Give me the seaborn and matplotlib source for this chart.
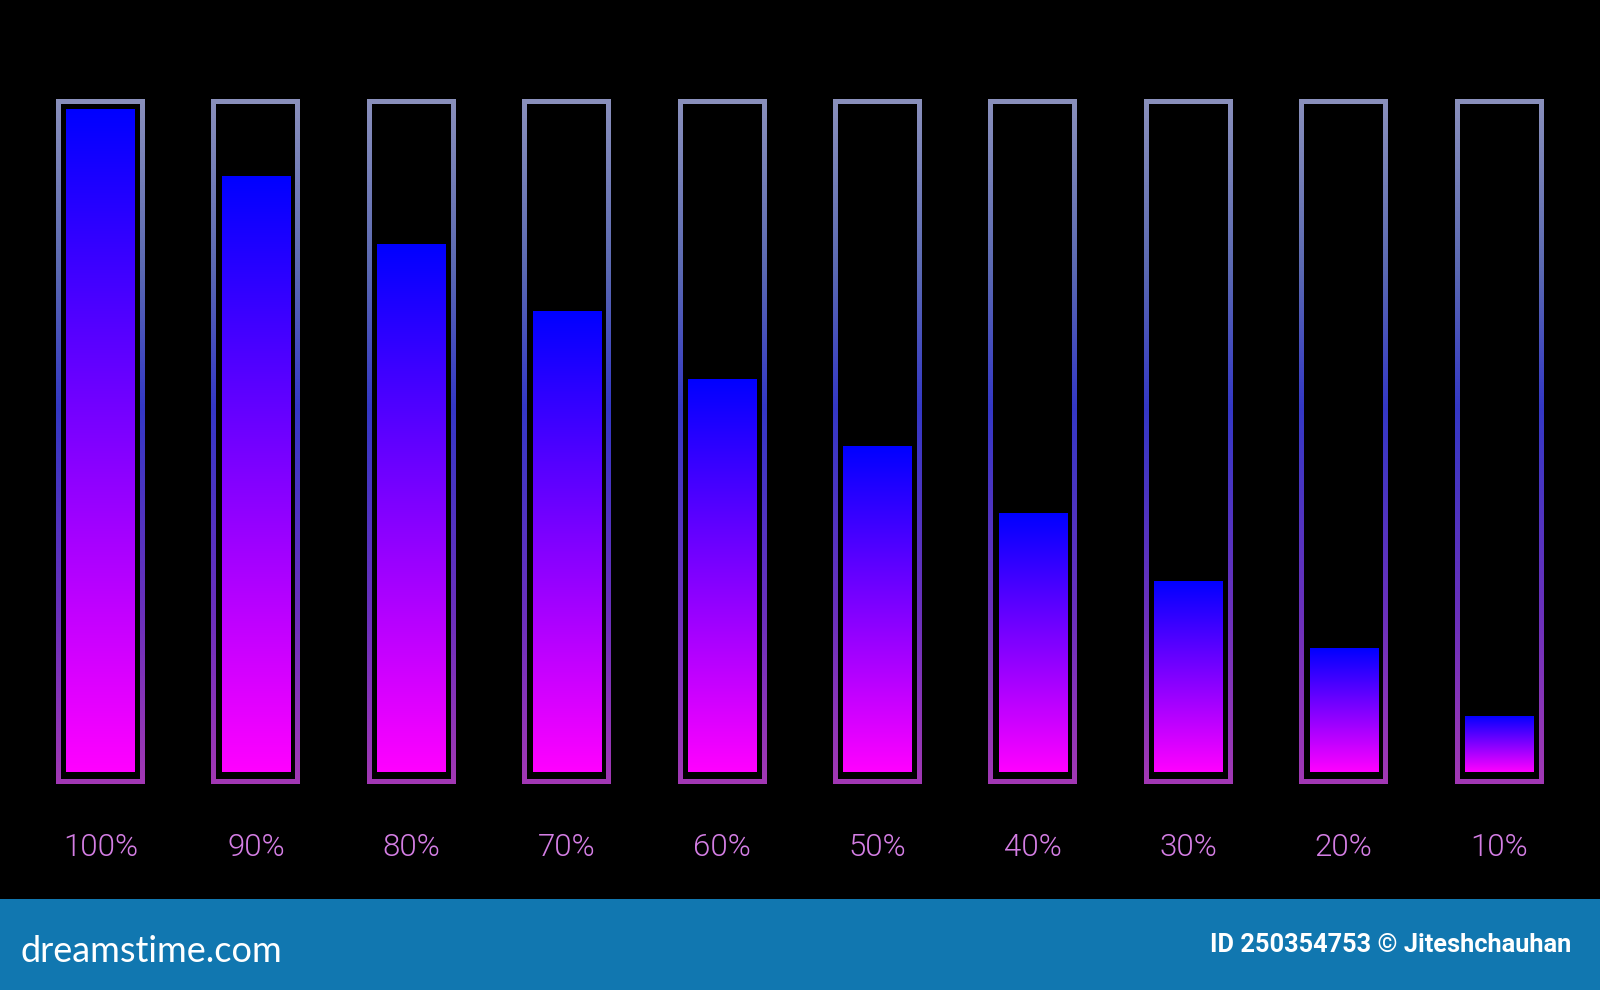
import numpy as np
import pandas as pd
import matplotlib
matplotlib.use("Agg")
import matplotlib.pyplot as plt
from matplotlib.colors import LinearSegmentedColormap
from matplotlib.patches import Rectangle, PathPatch
from matplotlib.path import Path
import seaborn as sns

# ---- data ----
labels = ["100%", "90%", "80%", "70%", "60%", "50%", "40%", "30%", "20%", "10%"]
values = [100, 90, 80, 70, 60, 50, 40, 30, 20, 10]

banner_left = "dreamstime.com"
banner_right = "ID 250354753 © Jiteshchauhan"

sns.set_theme(style="white")
plt.rcParams["font.family"] = ["Lato", "DejaVu Sans"]

W, H = 16.0, 9.9
fig = plt.figure(figsize=(W, H), dpi=100, facecolor="black")

banner_h = 91 / 990
ax = fig.add_axes([0, banner_h, 1, 1 - banner_h])
ax.set_facecolor("black")

df = pd.DataFrame({"label": labels, "value": values})
bar_w = 0.4376
sns.barplot(data=df, x="label", y="value", width=bar_w, color="#0000ff",
            ax=ax, errorbar=None, zorder=3, linewidth=0, edgecolor="none")

# axis limits (pixel layout mapping)
slot = 155.4
ppu = 6.74          # pixels per value unit
zero_px = 783.0     # pixel row of value 0


def v(px):
    return (zero_px - px) / ppu


xlim = (-100.5 / slot, (1600 - 100.5) / slot)
ylim = (v(899), v(0))
ax.set_xlim(*xlim)
ax.set_ylim(*ylim)
for s in ax.spines.values():
    s.set_visible(False)
ax.set_xticks([])
ax.set_yticks([])
ax.set_xlabel("")
ax.set_ylabel("")

bar_cmap = LinearSegmentedColormap.from_list("bar", ["#ff00ff", "#8000ff", "#0000ff"])
frame_cmap = LinearSegmentedColormap.from_list(
    "frame",
    [(0.0, "#a238b4"), (0.25, "#6a30bc"), (0.55, "#3438c6"), (0.75, "#5a68b2"), (1.0, "#8a90bc")],
)
grad = np.linspace(0, 1, 256).reshape(-1, 1)

# gradient fill of bars (bar bottom visible from pixel row 772)
base_v = v(772)
for p in list(ax.patches):
    if isinstance(p, Rectangle) and p.get_height() > 0:
        x0, w, h = p.get_x(), p.get_width(), p.get_height()
        im = ax.imshow(grad, cmap=bar_cmap, origin="lower", aspect="auto",
                       extent=(x0, x0 + w, base_v, h), zorder=4)
        im.set_clip_path(p)

# frames (ring shaped, drawn over bar bottoms)
fo_half = 44.5 / slot
fi_half = 39.5 / slot
f_top_o, f_bot_o = v(99), v(784)
f_top_i, f_bot_i = v(104), v(779)
for i in range(len(labels)):
    outer = Path([(i - fo_half, f_bot_o), (i + fo_half, f_bot_o), (i + fo_half, f_top_o),
                  (i - fo_half, f_top_o), (i - fo_half, f_bot_o)], closed=True)
    inner = Path([(i - fi_half, f_bot_i), (i - fi_half, f_top_i), (i + fi_half, f_top_i),
                  (i + fi_half, f_bot_i), (i - fi_half, f_bot_i)], closed=True)
    ring = PathPatch(Path.make_compound_path(outer, inner), facecolor="none",
                     edgecolor="none", transform=ax.transData)
    ax.add_patch(ring)
    im = ax.imshow(grad, cmap=frame_cmap, origin="lower", aspect="auto",
                   extent=(i - fo_half, i + fo_half, f_bot_o, f_top_o), zorder=6)
    im.set_clip_path(ring)
    # dark gap between bar bottom and frame
    ax.add_patch(Rectangle((i - fi_half, f_bot_i), 2 * fi_half, base_v - f_bot_i,
                           facecolor="black", edgecolor="none", zorder=5))

ax.set_xlim(*xlim)
ax.set_ylim(*ylim)

label_y = v(847)
for i, lab in enumerate(labels):
    ax.text(i, label_y, lab, ha="center", va="center", color="#d47ee4",
            fontsize=22.5, fontweight=300, fontfamily=["Roboto", "DejaVu Sans"], zorder=7)

# banner
bx = fig.add_axes([0, 0, 1, banner_h])
bx.set_facecolor("#1177b0")
bx.set_xlim(0, 1600)
bx.set_ylim(91, 0)
bx.set_xticks([])
bx.set_yticks([])
for s in bx.spines.values():
    s.set_visible(False)
bx.text(20, 63, banner_left, ha="left", va="baseline", color="white",
        fontsize=26, fontfamily=["Lato", "DejaVu Sans"])
bx.text(1571, 46, banner_right, ha="right", va="center", color="white",
        fontsize=18.3, fontweight="bold", fontfamily=["Roboto", "DejaVu Sans"])

fig.savefig("out.png", dpi=100, facecolor="black")
